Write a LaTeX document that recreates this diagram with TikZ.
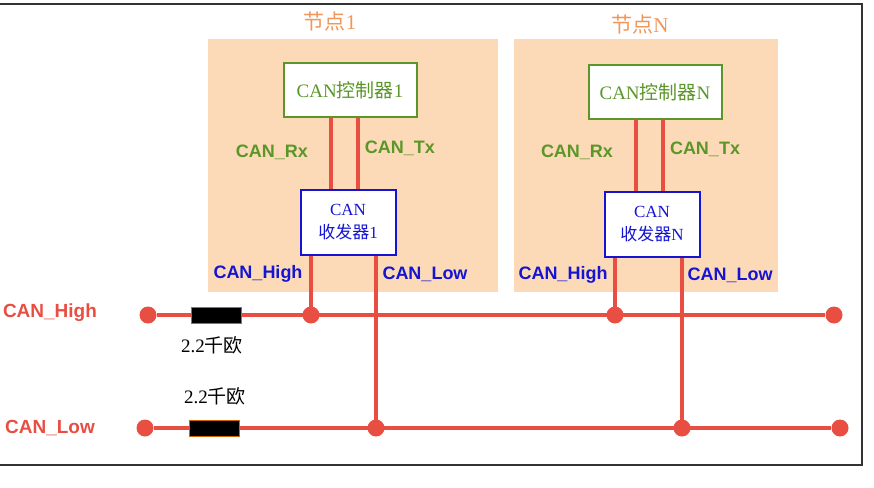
\documentclass[tikz,border=0pt]{standalone}
\usepackage{fontspec}
\setmainfont{Liberation Serif}
\newfontfamily\cjk{Noto Sans CJK SC}
\newfontfamily\lsans{Liberation Sans}
\definecolor{busred}{RGB}{232,78,66}
\definecolor{nodebg}{RGB}{252,218,183}
\definecolor{ttlor}{RGB}{240,150,90}
\definecolor{gr}{RGB}{90,150,40}
\definecolor{bl}{RGB}{20,20,210}
\begin{document}
\begin{tikzpicture}[x=1pt,y=-1pt,
  bg/.style={fill=nodebg,draw=none},
  ctrl/.style={draw=gr,line width=2pt,fill=white,minimum width=133pt,minimum height=54pt,text=gr,font=\fontsize{19}{21}\selectfont},
  xcvr/.style={draw=bl,line width=2pt,fill=white,minimum width=95pt,minimum height=65pt,text=bl,align=center,font=\fontsize{17}{23}\selectfont},
  wire/.style={draw=busred,line width=4pt},
  dot/.style={circle,fill=busred,inner sep=0pt,minimum size=17pt},
  res/.style={draw=orange!80!black,fill=black,line width=1pt,minimum width=50pt,minimum height=16pt,inner sep=0pt},
  glab/.style={text=gr,font=\lsans\bfseries\fontsize{18}{20}\selectfont},
  blab/.style={text=bl,font=\lsans\bfseries\fontsize{18}{20}\selectfont},
  rlab/.style={text=busred,font=\lsans\bfseries\fontsize{19}{21}\selectfont},
  ttl/.style={text=ttlor,font=\fontsize{21}{23}\selectfont},
  ohm/.style={font=\fontsize{19}{21}\selectfont}]
\useasboundingbox (0,0) rectangle (874,487);
\draw[line width=1.5pt,draw=black!80] (0,4) -- (862,4) -- (862,465) -- (0,465);
\fill[bg] (208,39) rectangle (498,292);
\fill[bg] (514,39) rectangle (778,292);
\node[ttl] (t1) at (330,22) {{\cjk 节点}1};
\node[ttl] (tn) at (640,25) {{\cjk 节点}N};
\node[ctrl] (c1) at (350,90) {CAN{\cjk 控制器}1};
\node[ctrl] (cn) at (655,92) {CAN{\cjk 控制器}N};
\node[xcvr] (x1) at (348,222) {CAN\\{\cjk 收发器}1};
\node[xcvr] (xn) at (652,224) {CAN\\{\cjk 收发器}N};
% controller-transceiver wires
\draw[wire] ([xshift=-19pt]c1.south) -- ([xshift=-17pt]x1.north);
\draw[wire] ([xshift=8pt]c1.south) -- ([xshift=10pt]x1.north);
\draw[wire] ([xshift=-19pt]cn.south) -- ([xshift=-16pt]xn.north);
\draw[wire] ([xshift=8pt]cn.south) -- ([xshift=11pt]xn.north);
\node[glab] (rx1) at (272,152) {CAN\_Rx};
\node[glab] (tx1) at (400,148) {CAN\_Tx};
\node[glab] (rxn) at (577,152) {CAN\_Rx};
\node[glab] (txn) at (705,149) {CAN\_Tx};
\node[blab] (h1) at (258,274) {CAN\_High};
\node[blab] (l1) at (425,274) {CAN\_Low};
\node[blab] (hn) at (563,275) {CAN\_High};
\node[blab] (ln) at (730,275) {CAN\_Low};
% bus
\node[dot] (hs) at (148,315) {};
\node[dot] (he) at (834,315) {};
\node[dot] (ls) at (145,428) {};
\node[dot] (le) at (840,428) {};
\node[dot] (j1h) at (311,315) {};
\node[dot] (jnh) at (615,315) {};
\node[dot] (j1l) at (376,428) {};
\node[dot] (jnl) at (682,428) {};
\draw[wire] (hs) -- (he);
\draw[wire] (ls) -- (le);
\draw[wire] (x1.south -| j1h) -- (j1h.center);
\draw[wire] (x1.south -| j1l) -- (j1l.center);
\draw[wire] (xn.south -| jnh) -- (jnh.center);
\draw[wire] (xn.south -| jnl) -- (jnl.center);
\node[res] (r1) at (216,315) {};
\node[res] (r2) at (214,428) {};
\node[ohm] (o1) at (212,345) {2.2{\cjk 千欧}};
\node[ohm] (o2) at (215,396) {2.2{\cjk 千欧}};
\node[rlab] (bh) at (50,313) {CAN\_High};
\node[rlab] (bl) at (50,428) {CAN\_Low};
\end{tikzpicture}
\end{document}
